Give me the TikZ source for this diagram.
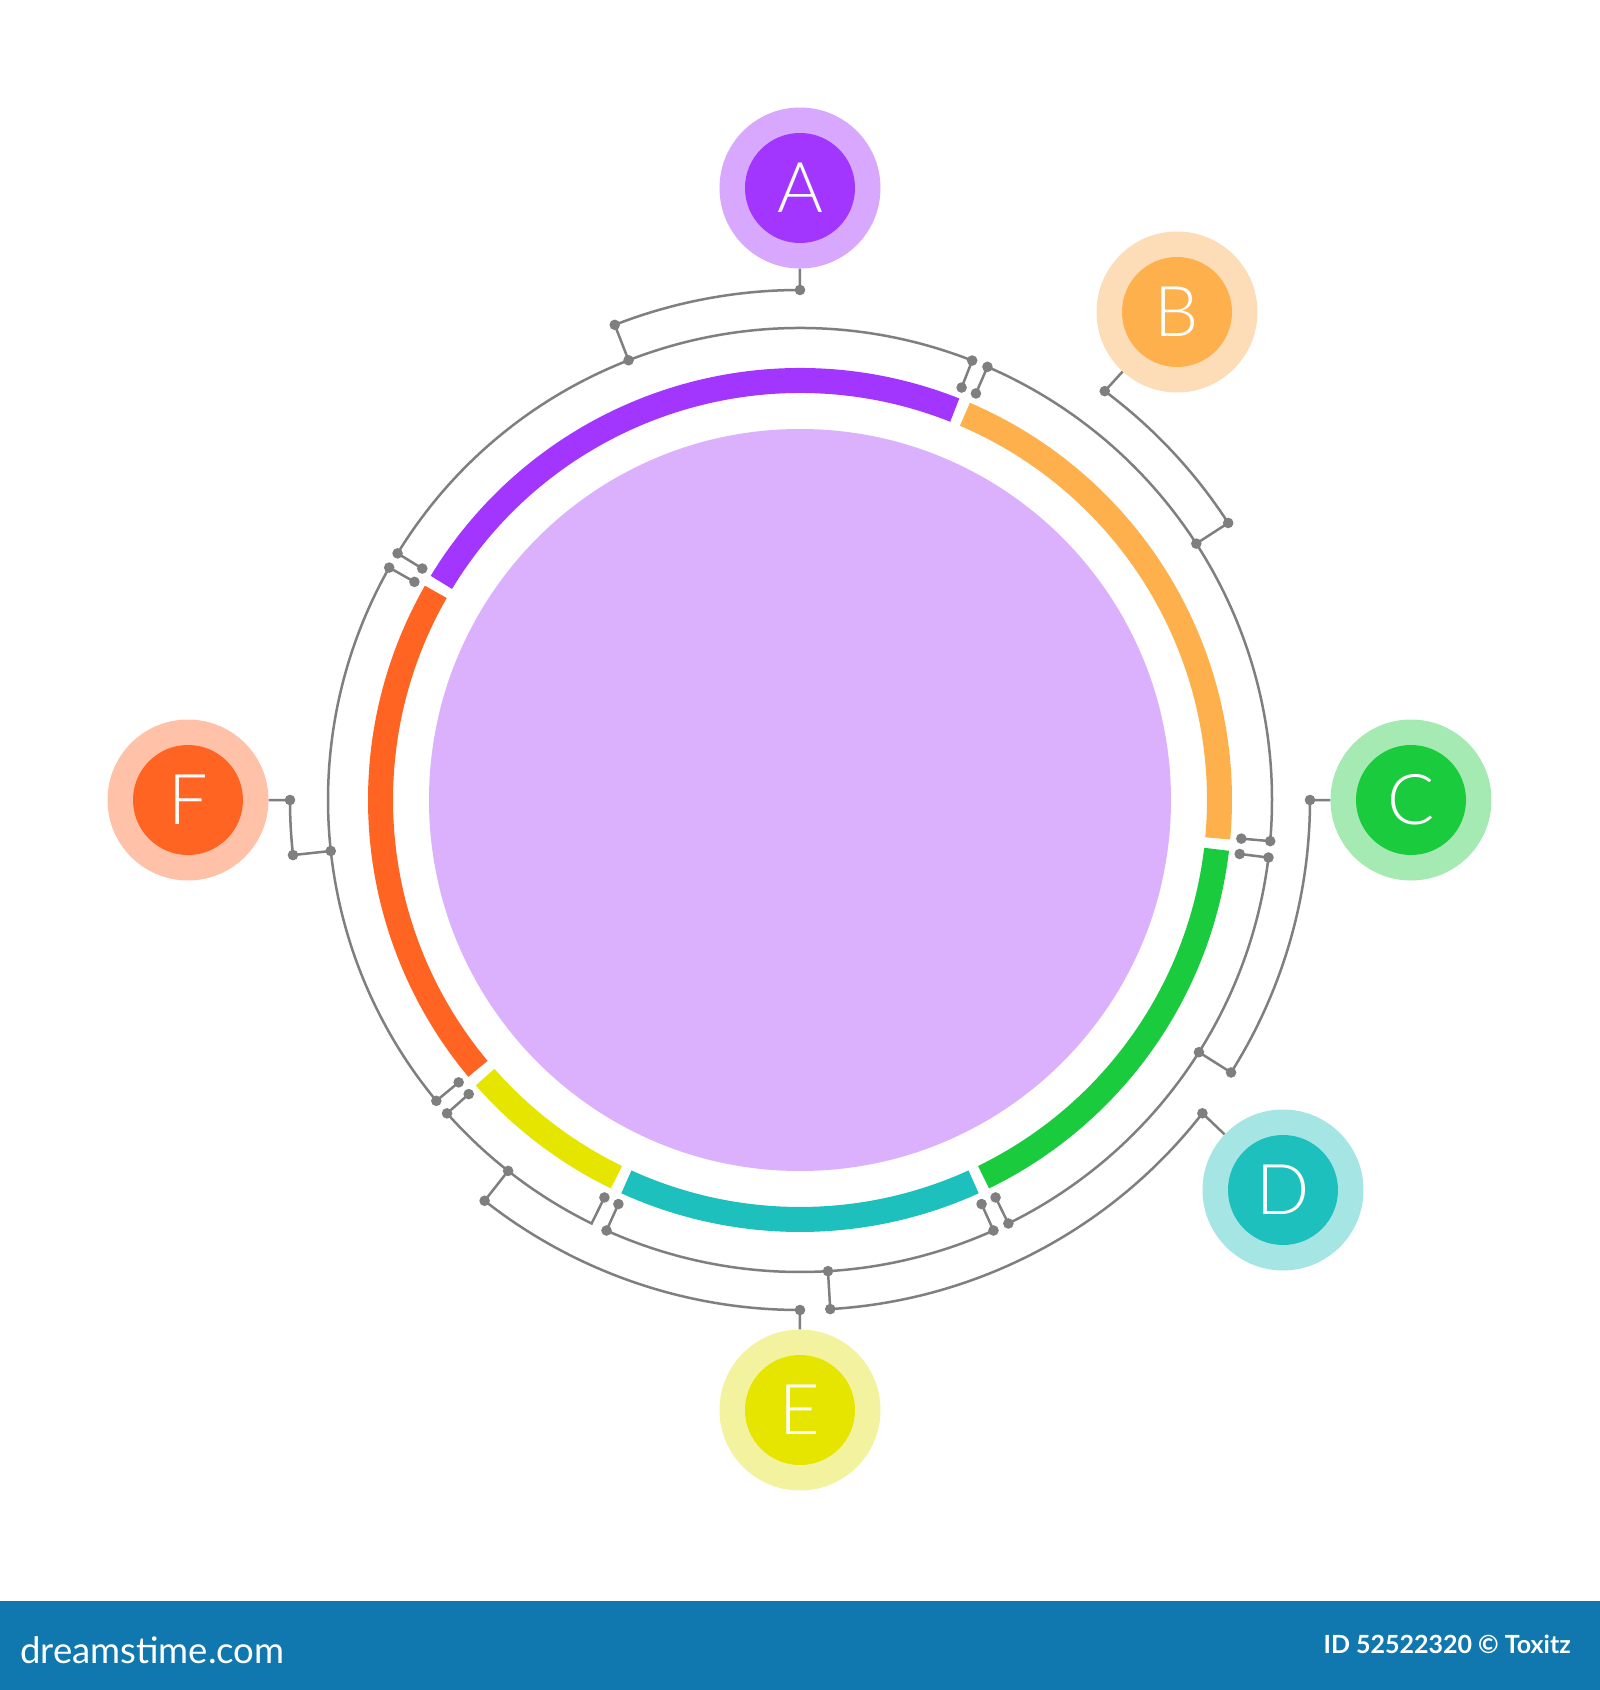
\documentclass[tikz,border=0pt]{standalone}
\usepackage{fontspec}
\setmainfont{Lato}
\newfontfamily\thinfont{Lato Light}
\definecolor{lineg}{HTML}{7F7F7F}
\definecolor{bigc}{HTML}{DBB0FC}
\definecolor{dA}{HTML}{A235FE}\definecolor{hA}{HTML}{D7A8FD}
\definecolor{dB}{HTML}{FDB04C}\definecolor{hB}{HTML}{FDDDB7}
\definecolor{dC}{HTML}{1ACB3D}\definecolor{hC}{HTML}{A5EAB2}
\definecolor{dD}{HTML}{1EC0BD}\definecolor{hD}{HTML}{A5E6E5}
\definecolor{dE}{HTML}{E5E500}\definecolor{hE}{HTML}{F3F39F}
\definecolor{dF}{HTML}{FF6423}\definecolor{hF}{HTML}{FFC1A8}
\definecolor{barblue}{HTML}{1077AF}
\begin{document}
\begin{tikzpicture}[x=1pt,y=1pt,
  gline/.style={draw=lineg, line width=2.5pt},
  ringseg/.style={line width=25pt},
  halo/.style={circle, inner sep=0pt, minimum size=161pt},
  core/.style={circle, inner sep=0pt, minimum size=110pt, text=white,
               font=\thinfont\fontsize{70}{70}\selectfont}]
\useasboundingbox (-800,-890) rectangle (800,800);
\fill[white] (-800,-890) rectangle (800,800);
\fill[barblue] (-800,-890) rectangle (800,-801);
\fill[bigc] (0,0) circle[radius=371pt];
\foreach \n/\s/\e/\b/\o/\cx/\cy/\de in {
    A/67.6/149.5/111.3/90/0/612/1,
    B/-6/67.6/32.9/53.3/377/488/1,
    C/-64.8/-6/-32.3/0/611/0/1,
    D/-115.2/-64.8/-86.6/-37.9/483/-390/1,
    E/220.6/244.8/231.8/270/0/-610/0,
    F/149.5/220.6/186.2/180/-612/0/1}{
  \pgfmathsetmacro\sa{\s+1}
  \pgfmathsetmacro\ea{\e-1}
  \pgfmathsetmacro\sr{\s+0.75}
  \pgfmathsetmacro\er{\e-0.75}
  \draw[ringseg, d\n] (\sr:419.5pt) arc[start angle=\sr, end angle=\er, radius=419.5pt];
  \coordinate (\n-si) at (\sa:443pt);
  \coordinate (\n-so) at (\sa:472pt);
  \coordinate (\n-ei) at (\ea:443pt);
  \coordinate (\n-eo) at (\ea:472pt);
  \coordinate (\n-bi) at (\b:472pt);
  \coordinate (\n-bo) at (\b:510pt);
  \coordinate (\n-t) at (\o:510pt);
  \node[halo, fill=h\n] (h\n) at (\cx,\cy) {};
  \node[core, fill=d\n] (c\n) at (h\n) {\n};
  \draw[gline] (\n-si) -- (\n-so) arc[start angle=\sa, end angle=\ea, radius=472pt] -- (\n-ei);
  \draw[gline] (\n-bi) -- (\n-bo) arc[start angle=\b, end angle=\o, radius=510pt] -- (h\n);
  \foreach \p in {si,so,ei,bi,bo,t}{\fill[lineg] (\n-\p) circle[radius=5.3pt];}
  \ifnum\de=1 \fill[lineg] (\n-eo) circle[radius=5.3pt];\fi
}
\node[text=white, font=\fontsize{36.5}{36}\selectfont, anchor=base west, inner sep=0pt] (wm) at (-780,-863) {dreamstime.com};
\node[text=white, font=\bfseries\fontsize{25}{25}\selectfont, anchor=base east, inner sep=0pt] (idt) at (771,-853) {ID 52522320 © Toxitz};
\end{tikzpicture}
\end{document}
